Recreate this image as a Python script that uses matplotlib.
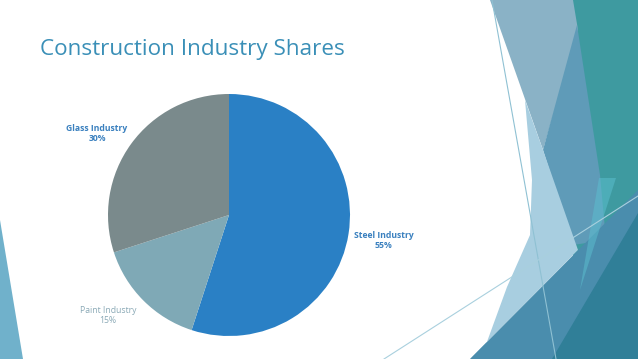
import matplotlib
matplotlib.use("Agg")
import matplotlib.pyplot as plt
from matplotlib.patches import Polygon

# ---- data ----
categories = ["Steel Industry", "Paint Industry", "Glass Industry"]
shares = [55, 15, 30]
slice_colors = ["#2A80C5", "#7FA9B6", "#7A8A8C"]
label_colors = ["#3A80BF", "#8AA9B6", "#3A80BF"]
label_weights = ["bold", "normal", "bold"]
# label anchor positions in pie data coords (radius = 1)
label_pos = [(1.28, -0.21), (-1.0, -0.83), (-1.09, 0.67)]
title = "Construction Industry Shares"

W, H = 638, 359
fig = plt.figure(figsize=(W / 100, H / 100), dpi=100)
fig.patch.set_facecolor("white")

# ---- decorative background (pixel coords, y downward) ----
bg = fig.add_axes([0, 0, 1, 1])
bg.set_xlim(0, W)
bg.set_ylim(H, 0)
bg.axis("off")

shapes = [
    ([(573, 0), (638, 0), (638, 359), (573, 359)], "#3E9AA0", 1.0),
    ([(490, 0), (573, 0), (578, 30), (543, 150)], "#8AB2C6", 1.0),
    ([(577, 25), (600, 175), (606, 240), (573, 245), (543, 150)], "#5F9BB8", 1.0),
    ([(525, 100), (543, 150), (578, 250), (470, 359), (484, 350),
      (507, 287), (530, 235), (532, 180)], "#A8CEE0", 1.0),
    ([(470, 359), (638, 190), (638, 359)], "#4A8DAD", 1.0),
    ([(552, 359), (638, 213), (638, 359)], "#307F98", 1.0),
    ([(599, 178), (616, 178), (580, 290)], "#5CC0D0", 0.5),
    ([(0, 220), (23, 359), (0, 359)], "#70B1CB", 1.0),
]
for pts, col, a in shapes:
    bg.add_patch(Polygon(pts, closed=True, facecolor=col, edgecolor="none",
                         alpha=a))
bg.plot([492, 556], [0, 359], color="#8FC1D3", lw=0.8)
bg.plot([384, 638], [359, 196], color="#A9D0DE", lw=0.8)

fig.text(40 / W, 1 - 49 / H, title, fontsize=16.2, color="#3A8FB7",
         family="Open Sans", va="center", ha="left")

# ---- pie ----
cx, cy, r = 229, 215, 121
ax = fig.add_axes([(cx - r) / W, (H - cy - r) / H, 2 * r / W, 2 * r / H])
ax.pie(shares, colors=slice_colors, startangle=90, counterclock=False,
       radius=1, wedgeprops=dict(linewidth=0))
ax.set_xlim(-1, 1)
ax.set_ylim(-1, 1)
ax.set_aspect("equal")
ax.axis("off")

for cat, val, (lx, ly), lc, lw in zip(categories, shares, label_pos,
                                      label_colors, label_weights):
    ax.text(lx, ly, f"{cat}\n{val}%", ha="center", va="center",
            fontsize=6.2, color=lc, fontweight=lw, family="Open Sans",
            linespacing=1.15, clip_on=False)

fig.savefig("out.png", dpi=100, facecolor="white")
